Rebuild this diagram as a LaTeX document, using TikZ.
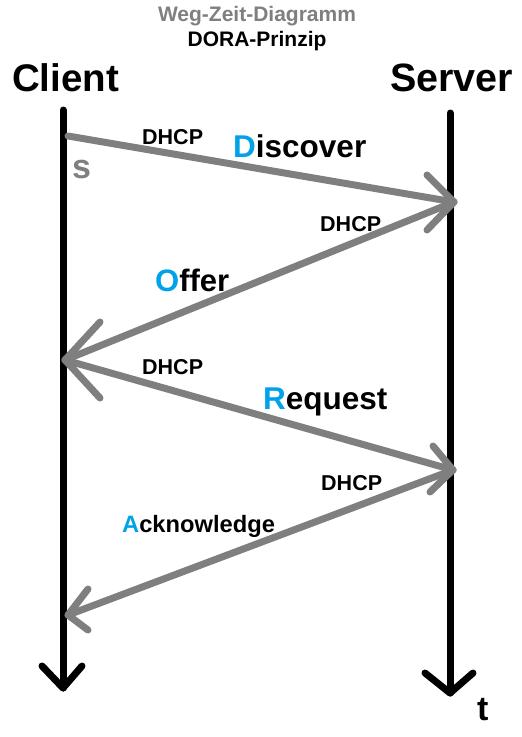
\documentclass[tikz,border=0pt]{standalone}
\usepackage{fontspec}
\setmainfont{Liberation Sans}
\definecolor{msggray}{HTML}{7F7F7F}
\definecolor{letterblue}{HTML}{00A2E8}
\begin{document}
\begin{tikzpicture}[x=1bp,y=-1bp,
  timeline/.style={line width=7bp,line cap=round,line join=round,black},
  msg/.style={line width=7bp,line cap=round,line join=round,msggray},
  lbl/.style={inner sep=0pt,anchor=base west,font=\bfseries},
  fs/.style={font=\fontsize{#1bp}{#1bp}\selectfont\bfseries}]
\useasboundingbox (0,0) rectangle (522,737);
% titles
\node[lbl,anchor=base,fs=21,text=msggray] (title) at (257,22) {Weg-Zeit-Diagramm};
\node[lbl,anchor=base,fs=21] (subtitle) at (257,47) {DORA-Prinzip};
\node[lbl,fs=38.5] (client) at (12,91) {Client};
\node[lbl,fs=39.5] (server) at (390,91) {Server};
% time lines
\coordinate (ctop) at (63,110);
\coordinate (cbot) at (63,688);
\coordinate (cl) at (42,666);
\coordinate (cr) at (82,666);
\coordinate (stop) at (450,113);
\coordinate (sbot) at (450,693);
\coordinate (sl) at (425,673);
\coordinate (sr) at (473,673);
\draw[timeline] (ctop) -- (cbot);
\draw[timeline] (cl) -- (cbot) -- (cr);
\draw[timeline] (stop) -- (sbot);
\draw[timeline] (sl) -- (sbot) -- (sr);
% message points
\coordinate (p0) at (68,136);
\coordinate (p1) at (454,202);
\coordinate (p2) at (65,360);
\coordinate (p3) at (453,470);
\coordinate (p4) at (68,615);
% Discover
\draw[msg] (p0) -- (p1);
\draw[msg] (427,175) coordinate (d1) -- (p1) -- (427,230) coordinate (d2);
% Offer
\draw[msg] (p1) -- (p2);
\draw[msg] (100,322) coordinate (o1) -- (p2) -- (100,398) coordinate (o2);
% Request
\draw[msg] (p2) -- (p3);
\draw[msg] (433,446) coordinate (r1) -- (p3) -- (430,492) coordinate (r2);
% Acknowledge
\draw[msg] (p3) -- (p4);
\draw[msg] (88,589) coordinate (a1) -- (p4) -- (88,630) coordinate (a2);
% labels
\node[lbl,fs=21.5] (dhcp1) at (142,144) {DHCP};
\node[lbl,fs=31.5] (disc) at (233,157) {\textcolor{letterblue}{D}iscover};
\node[lbl,fs=34] (s) at (72,178) {\textcolor{msggray}{s}};
\node[lbl,fs=21.5] (dhcp2) at (320,231) {DHCP};
\node[lbl,fs=31] (offer) at (155,291) {\textcolor{letterblue}{O}ffer};
\node[lbl,fs=21.5] (dhcp3) at (142,374) {DHCP};
\node[lbl,fs=31.5] (req) at (263,409) {\textcolor{letterblue}{R}equest};
\node[lbl,fs=21.5] (dhcp4) at (321,490) {DHCP};
\node[lbl,fs=23.7] (ack) at (122,532) {\textcolor{letterblue}{A}cknowledge};
\node[lbl,fs=34] (t) at (477,720) {t};
\end{tikzpicture}
\end{document}
